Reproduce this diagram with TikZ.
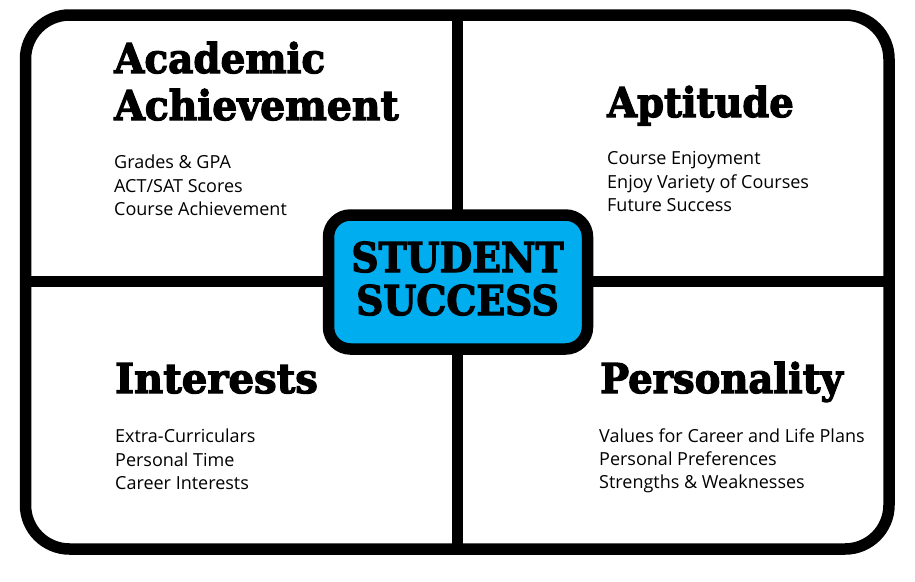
\documentclass[tikz,border=0pt]{standalone}
\usepackage{fontspec}
\setmainfont{Open Sans}
\newfontfamily\slab{DejaVu Serif}[BoldFeatures={FakeBold=3}]
\definecolor{ssblue}{HTML}{00ADEF}
\tikzset{
  frame/.style={draw=black, line width=11.5pt},
  head/.style={anchor=base west, inner sep=0pt, font=\slab\bfseries\fontsize{41}{41}\selectfont},
  item/.style={anchor=base west, inner sep=0pt, font=\fontsize{18}{20}\selectfont},
  centre/.style={anchor=base, inner sep=0pt, font=\slab\bfseries\fontsize{41}{41}\selectfont},
}
\begin{document}
\begin{tikzpicture}[x=1pt,y=-1pt]
\useasboundingbox (0,0) rectangle (915,581);
% outer frame and dividers
\draw[frame, rounded corners=44pt] (25.5,15) rectangle (889,549);
\coordinate (vt) at (457.5,15);
\coordinate (vb) at (457.5,549);
\coordinate (hl) at (25.5,281.5);
\coordinate (hr) at (889,281.5);
\draw[frame] (vt) -- (vb);
\draw[frame] (hl) -- (hr);
% centre box
\draw[frame, fill=ssblue, rounded corners=22pt] (328.5,215) rectangle (587.5,349);
\node[centre] (c1) at (457.5,272) {\scalebox{0.92}[1]{STUDENT}};
\node[centre] (c2) at (457.5,315) {\scalebox{0.92}[1]{SUCCESS}};
% top left
\node[head] (h1a) at (114,73) {\scalebox{0.95}[1]{Academic}};
\node[head] (h1b) at (114,120) {\scalebox{0.96}[1]{Achievement}};
\node[item] (t1a) at (114,168.5) {Grades \& GPA};
\node[item] (t1b) at (114,192) {ACT/SAT Scores};
\node[item] (t1c) at (114,215.5) {Course Achievement};
% top right
\node[head] (h2) at (607,117) {\scalebox{0.94}[1]{Aptitude}};
\node[item] (t2a) at (607,164.5) {Course Enjoyment};
\node[item] (t2b) at (607,188) {Enjoy Variety of Courses};
\node[item] (t2c) at (607,211) {Future Success};
% bottom left
\node[head] (h3) at (115,393) {\scalebox{0.98}[1]{Interests}};
\node[item] (t3a) at (115,442.5) {Extra-Curriculars};
\node[item] (t3b) at (115,466) {Personal Time};
\node[item] (t3c) at (115,489.5) {Career Interests};
% bottom right
\node[head] (h4) at (600,393) {\scalebox{0.94}[1]{Personality}};
\node[item] (t4a) at (599,442.5) {Values for Career and Life Plans};
\node[item] (t4b) at (599,465.5) {Personal Preferences};
\node[item] (t4c) at (599,488.5) {Strengths \& Weaknesses};
\end{tikzpicture}
\end{document}
